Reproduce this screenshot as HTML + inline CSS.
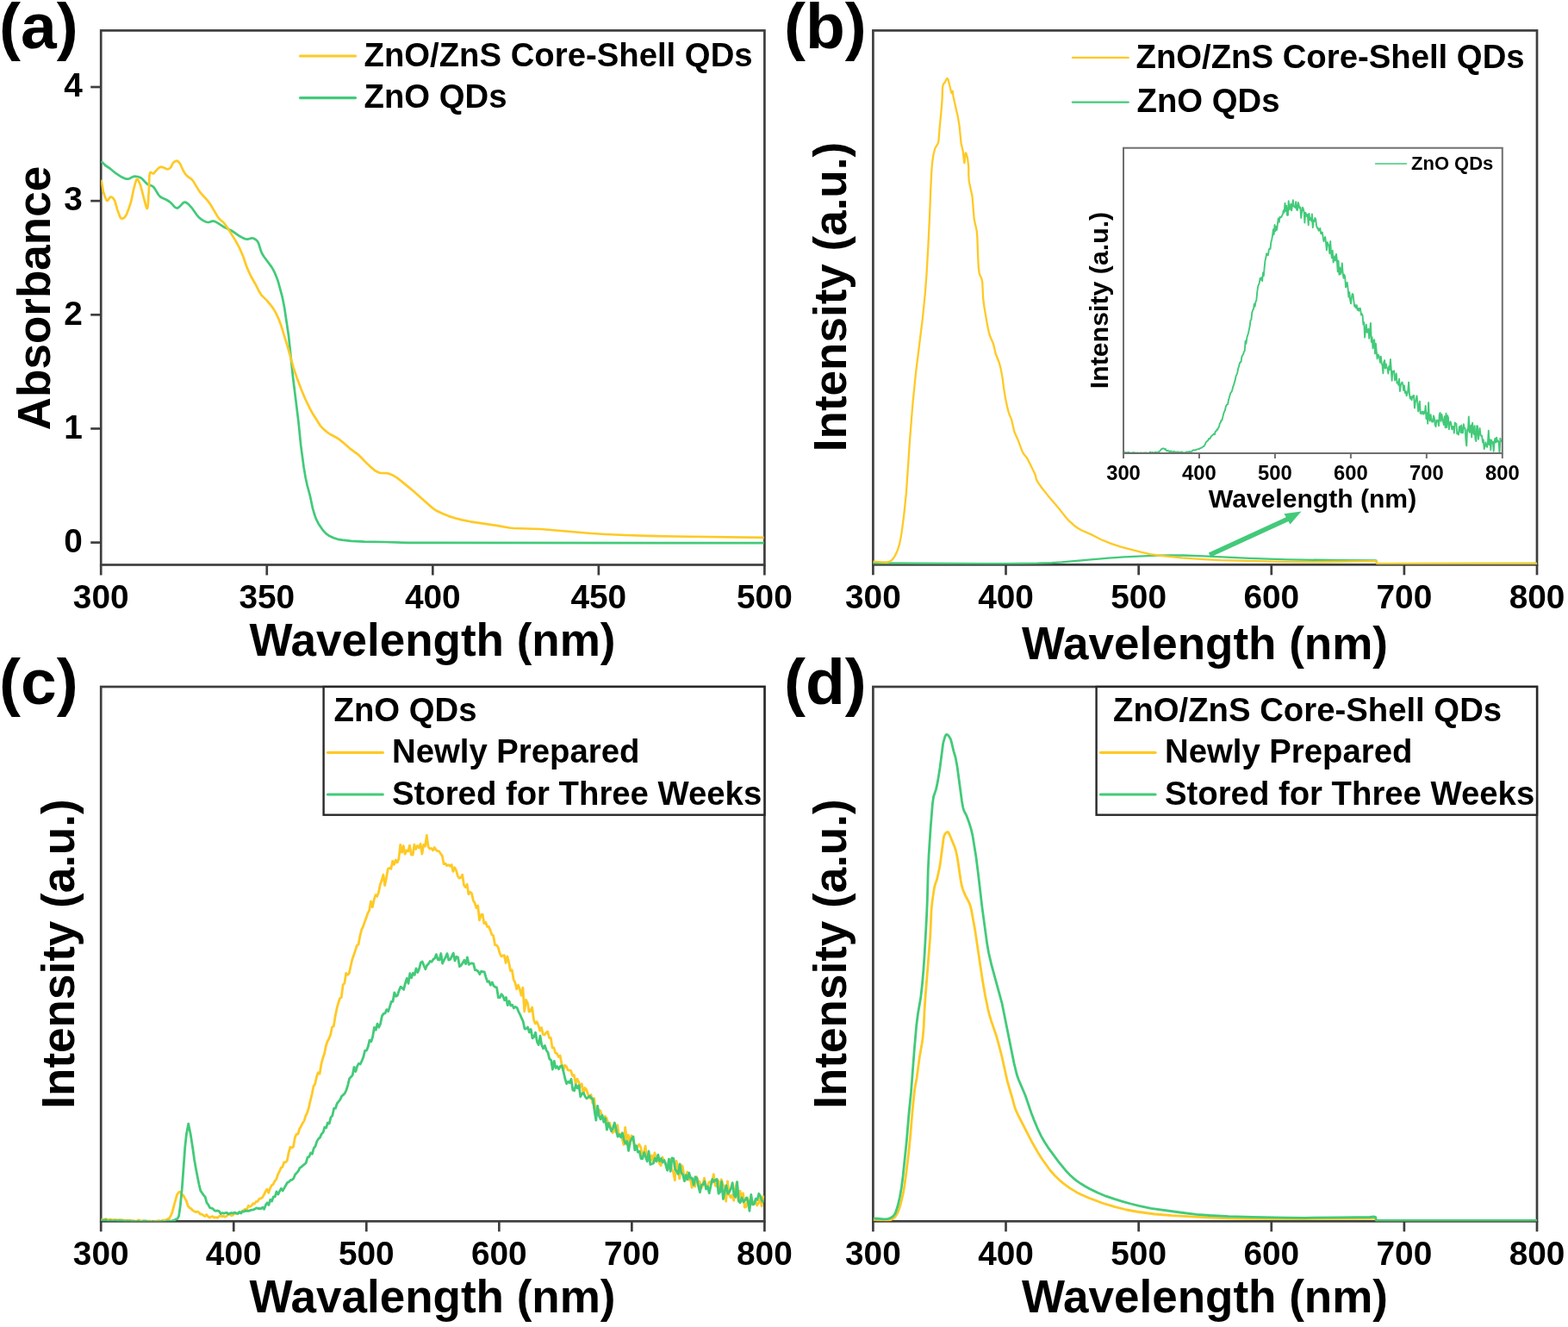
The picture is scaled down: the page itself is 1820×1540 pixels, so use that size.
<!DOCTYPE html>
<html><head><meta charset="utf-8"><title>Figure</title>
<style>html,body{margin:0;padding:0;background:#fff;}svg{display:block;}</style>
</head><body>
<svg width="1820" height="1540" viewBox="0 0 1820 1540" font-family="'Liberation Sans', Arial, sans-serif" font-weight="bold" fill="#000"><defs>
<clipPath id="ca"><rect x="117.2" y="35.4" width="770.2" height="620.1"/></clipPath>
<clipPath id="cb"><rect x="1013.4" y="35.4" width="770.6" height="619.9"/></clipPath>
<clipPath id="cc"><rect x="117.2" y="797" width="770.2" height="620.3"/></clipPath>
<clipPath id="cd"><rect x="1013.4" y="797" width="770.6" height="620.3"/></clipPath>
</defs><rect x="117.2" y="35.4" width="770.1999999999999" height="620.1" fill="none" stroke="#3e3e3e" stroke-width="2.7"/>
<line x1="117.2" y1="655.5" x2="117.2" y2="667.5" stroke="#3e3e3e" stroke-width="2.7" stroke-linecap="butt"/>
<text x="117.2" y="706.1" font-size="38.8" text-anchor="middle">300</text>
<line x1="309.75" y1="655.5" x2="309.75" y2="667.5" stroke="#3e3e3e" stroke-width="2.7" stroke-linecap="butt"/>
<text x="309.75" y="706.1" font-size="38.8" text-anchor="middle">350</text>
<line x1="502.3" y1="655.5" x2="502.3" y2="667.5" stroke="#3e3e3e" stroke-width="2.7" stroke-linecap="butt"/>
<text x="502.3" y="706.1" font-size="38.8" text-anchor="middle">400</text>
<line x1="694.85" y1="655.5" x2="694.85" y2="667.5" stroke="#3e3e3e" stroke-width="2.7" stroke-linecap="butt"/>
<text x="694.85" y="706.1" font-size="38.8" text-anchor="middle">450</text>
<line x1="887.4" y1="655.5" x2="887.4" y2="667.5" stroke="#3e3e3e" stroke-width="2.7" stroke-linecap="butt"/>
<text x="887.4" y="706.1" font-size="38.8" text-anchor="middle">500</text>
<line x1="105.2" y1="629.6" x2="117.2" y2="629.6" stroke="#3e3e3e" stroke-width="2.7" stroke-linecap="butt"/>
<text x="95.8" y="640.8" font-size="38.8" text-anchor="end">0</text>
<line x1="105.2" y1="497.45" x2="117.2" y2="497.45" stroke="#3e3e3e" stroke-width="2.7" stroke-linecap="butt"/>
<text x="95.8" y="508.65" font-size="38.8" text-anchor="end">1</text>
<line x1="105.2" y1="365.3" x2="117.2" y2="365.3" stroke="#3e3e3e" stroke-width="2.7" stroke-linecap="butt"/>
<text x="95.8" y="376.5" font-size="38.8" text-anchor="end">2</text>
<line x1="105.2" y1="233.15" x2="117.2" y2="233.15" stroke="#3e3e3e" stroke-width="2.7" stroke-linecap="butt"/>
<text x="95.8" y="244.35" font-size="38.8" text-anchor="end">3</text>
<line x1="105.2" y1="101.0" x2="117.2" y2="101.0" stroke="#3e3e3e" stroke-width="2.7" stroke-linecap="butt"/>
<text x="95.8" y="112.2" font-size="38.8" text-anchor="end">4</text>
<text x="502" y="761" font-size="53" text-anchor="middle">Wavelength (nm)</text>
<text x="58" y="346" font-size="53" text-anchor="middle" transform="rotate(-90 58 346)">Absorbance</text>
<line x1="348.5" y1="65" x2="412.5" y2="65" stroke="#FFC925" stroke-width="3.2" stroke-linecap="round"/>
<line x1="348.5" y1="113.6" x2="412.5" y2="113.6" stroke="#42CA79" stroke-width="3.2" stroke-linecap="round"/>
<text x="422.5" y="77.1" font-size="38.3" text-anchor="start">ZnO/ZnS Core-Shell QDs</text>
<text x="422.5" y="124.9" font-size="38.3" text-anchor="start">ZnO QDs</text>
<rect x="1013.4" y="35.4" width="770.6" height="619.9" fill="none" stroke="#3e3e3e" stroke-width="2.7"/>
<line x1="1013.4" y1="655.3" x2="1013.4" y2="667.3" stroke="#3e3e3e" stroke-width="2.7" stroke-linecap="butt"/>
<text x="1013.4" y="705.9" font-size="38.8" text-anchor="middle">300</text>
<line x1="1167.52" y1="655.3" x2="1167.52" y2="667.3" stroke="#3e3e3e" stroke-width="2.7" stroke-linecap="butt"/>
<text x="1167.52" y="705.9" font-size="38.8" text-anchor="middle">400</text>
<line x1="1321.64" y1="655.3" x2="1321.64" y2="667.3" stroke="#3e3e3e" stroke-width="2.7" stroke-linecap="butt"/>
<text x="1321.64" y="705.9" font-size="38.8" text-anchor="middle">500</text>
<line x1="1475.76" y1="655.3" x2="1475.76" y2="667.3" stroke="#3e3e3e" stroke-width="2.7" stroke-linecap="butt"/>
<text x="1475.76" y="705.9" font-size="38.8" text-anchor="middle">600</text>
<line x1="1629.88" y1="655.3" x2="1629.88" y2="667.3" stroke="#3e3e3e" stroke-width="2.7" stroke-linecap="butt"/>
<text x="1629.88" y="705.9" font-size="38.8" text-anchor="middle">700</text>
<line x1="1784.0" y1="655.3" x2="1784.0" y2="667.3" stroke="#3e3e3e" stroke-width="2.7" stroke-linecap="butt"/>
<text x="1784.0" y="705.9" font-size="38.8" text-anchor="middle">800</text>
<text x="1398.5" y="765" font-size="53" text-anchor="middle">Wavelength (nm)</text>
<text x="982" y="344.5" font-size="53" text-anchor="middle" transform="rotate(-90 982 344.5)">Intensity (a.u.)</text>
<line x1="1245" y1="66.9" x2="1309.6" y2="66.9" stroke="#FFC925" stroke-width="2.4" stroke-linecap="round"/>
<line x1="1245" y1="118.6" x2="1309.6" y2="118.6" stroke="#42CA79" stroke-width="2.4" stroke-linecap="round"/>
<text x="1318.5" y="78.6" font-size="38.3" text-anchor="start">ZnO/ZnS Core-Shell QDs</text>
<text x="1319.5" y="130" font-size="38.3" text-anchor="start">ZnO QDs</text>
<rect x="1304" y="171.7" width="439.79999999999995" height="354.3" fill="#fff" stroke="none"/>
<clipPath id="ci"><rect x="1304" y="171.7" width="439.79999999999995" height="354.3"/></clipPath>
<g clip-path="url(#ci)">
<path d="M1304.5,526.3L1305.3,524.5L1306.2,525.7L1307.0,525.2L1307.9,525.3L1308.7,525.4L1309.6,524.7L1310.4,525.4L1311.3,525.1L1312.1,526.8L1313.0,525.6L1313.8,525.4L1314.7,525.4L1315.5,525.2L1316.4,525.1L1317.2,525.4L1318.1,525.7L1318.9,525.5L1319.8,525.9L1320.6,525.5L1321.5,525.6L1322.3,526.2L1323.2,525.8L1324.0,525.4L1324.9,525.5L1325.7,525.8L1326.6,526.4L1327.4,525.5L1328.3,525.5L1329.1,526.0L1330.0,525.3L1330.8,525.5L1331.7,526.0L1332.5,525.8L1333.4,525.6L1334.2,525.9L1335.1,524.4L1335.9,525.9L1336.8,525.1L1337.6,524.8L1338.5,525.5L1339.3,525.6L1340.2,525.1L1341.0,524.7L1341.9,525.1L1342.7,524.9L1343.6,525.2L1344.4,524.7L1345.3,524.0L1346.1,523.7L1347.0,522.5L1347.8,521.3L1348.7,521.0L1349.5,520.5L1350.4,520.4L1351.2,520.7L1352.1,521.6L1352.9,521.1L1353.8,522.9L1354.6,523.3L1355.5,522.8L1356.3,523.7L1357.2,523.5L1358.0,524.4L1358.9,523.4L1359.7,523.9L1360.6,524.7L1361.4,524.9L1362.3,523.7L1363.1,524.4L1364.0,524.8L1364.8,524.5L1365.7,525.4L1366.5,524.4L1367.4,525.0L1368.2,524.5L1369.1,525.5L1369.9,525.0L1370.8,524.8L1371.6,524.3L1372.5,525.7L1373.3,525.3L1374.2,525.3L1375.0,525.4L1375.9,525.1L1376.7,524.6L1377.6,524.5L1378.4,524.4L1379.3,525.2L1380.1,524.0L1381.0,524.1L1381.8,524.1L1382.7,524.0L1383.5,523.8L1384.4,522.7L1385.2,522.2L1386.1,522.5L1386.9,522.7L1387.8,522.2L1388.6,521.8L1389.5,521.4L1390.3,521.4L1391.2,521.0L1392.0,521.1L1392.9,520.2L1393.7,520.1L1394.6,519.6L1395.4,519.2L1396.3,518.3L1397.1,518.3L1398.0,516.9L1398.8,515.8L1399.7,513.3L1400.5,512.8L1401.4,511.6L1402.2,511.1L1403.1,509.0L1403.9,509.4L1404.8,508.5L1405.6,506.6L1406.5,505.8L1407.3,505.0L1408.2,504.3L1409.0,503.5L1409.9,504.2L1410.7,500.7L1411.6,500.5L1412.4,498.5L1413.3,498.8L1414.1,496.3L1415.0,495.4L1415.8,491.3L1416.7,490.4L1417.5,487.7L1418.4,487.8L1419.2,484.4L1420.1,480.8L1420.9,478.0L1421.8,476.5L1422.6,472.9L1423.5,470.3L1424.3,469.3L1425.2,469.0L1426.0,463.9L1426.9,461.2L1427.7,458.1L1428.6,455.5L1429.4,454.9L1430.3,452.7L1431.1,449.2L1432.0,446.8L1432.8,443.9L1433.7,441.1L1434.5,436.6L1435.4,434.9L1436.2,432.7L1437.1,427.8L1437.9,425.6L1438.8,422.0L1439.6,420.2L1440.5,420.0L1441.3,414.4L1442.2,412.1L1443.0,411.4L1443.9,408.1L1444.7,407.3L1445.6,395.8L1446.4,398.8L1447.3,392.0L1448.1,389.2L1449.0,386.5L1449.8,382.8L1450.7,378.3L1451.5,371.9L1452.4,370.9L1453.2,363.0L1454.1,359.9L1454.9,358.9L1455.8,352.8L1456.6,355.7L1457.5,350.0L1458.3,348.9L1459.2,339.3L1460.0,333.3L1460.9,330.4L1461.7,328.7L1462.6,323.0L1463.4,324.8L1464.3,321.9L1465.1,326.2L1466.0,316.5L1466.8,320.1L1467.7,309.9L1468.5,302.3L1469.4,298.8L1470.2,294.1L1471.1,296.1L1471.9,296.2L1472.8,290.0L1473.6,288.4L1474.5,288.8L1475.3,281.1L1476.2,278.0L1477.0,273.5L1477.9,266.2L1478.7,272.0L1479.6,260.9L1480.4,268.2L1481.3,262.9L1482.1,266.7L1483.0,258.9L1483.8,253.5L1484.7,257.8L1485.5,251.8L1486.4,252.3L1487.2,252.1L1488.1,250.1L1488.9,248.6L1489.8,244.3L1490.6,246.5L1491.5,235.8L1492.3,244.8L1493.2,238.8L1494.0,249.7L1494.9,249.9L1495.7,233.3L1496.6,243.3L1497.4,241.6L1498.3,236.7L1499.1,244.3L1500.0,239.0L1500.8,232.2L1501.7,239.5L1502.5,239.8L1503.4,240.9L1504.2,234.1L1505.1,243.3L1505.9,244.0L1506.8,235.0L1507.6,238.1L1508.5,241.9L1509.3,240.5L1510.2,253.0L1511.0,246.1L1511.9,240.6L1512.7,242.2L1513.6,246.3L1514.4,258.5L1515.3,246.6L1516.1,248.6L1517.0,251.1L1517.8,248.9L1518.7,261.2L1519.5,247.9L1520.4,255.1L1521.2,253.2L1522.1,256.5L1522.9,248.5L1523.8,264.1L1524.6,255.5L1525.5,257.1L1526.3,252.9L1527.2,254.5L1528.0,261.7L1528.9,264.6L1529.7,264.4L1530.6,267.8L1531.4,266.8L1532.3,264.9L1533.1,270.8L1534.0,271.3L1534.8,269.5L1535.7,275.5L1536.5,280.1L1537.4,276.3L1538.2,275.0L1539.1,282.3L1539.9,290.3L1540.8,281.1L1541.6,283.5L1542.5,285.1L1543.3,294.0L1544.2,280.0L1545.0,293.3L1545.9,299.4L1546.7,290.8L1547.6,304.5L1548.4,301.3L1549.3,297.2L1550.1,302.6L1551.0,294.9L1551.8,301.4L1552.7,315.3L1553.5,302.8L1554.4,318.7L1555.2,310.5L1556.1,318.1L1556.9,315.2L1557.8,305.5L1558.6,316.5L1559.5,322.9L1560.3,318.8L1561.2,321.1L1562.0,333.3L1562.9,330.9L1563.7,327.8L1564.6,335.0L1565.4,344.7L1566.3,339.2L1567.1,347.9L1568.0,352.3L1568.8,345.8L1569.7,341.0L1570.5,341.5L1571.4,349.5L1572.2,355.7L1573.1,354.1L1573.9,357.3L1574.8,354.1L1575.6,359.9L1576.5,357.9L1577.3,360.7L1578.2,357.6L1579.0,358.0L1579.9,365.5L1580.7,364.0L1581.6,366.4L1582.4,376.6L1583.3,374.2L1584.1,391.6L1585.0,383.0L1585.8,376.6L1586.7,385.7L1587.5,385.3L1588.4,381.7L1589.2,392.8L1590.1,384.9L1590.9,374.9L1591.8,396.9L1592.6,391.4L1593.5,404.3L1594.3,395.1L1595.2,394.3L1596.0,410.4L1596.9,398.8L1597.7,407.6L1598.6,416.3L1599.4,411.5L1600.3,412.5L1601.1,415.3L1602.0,420.7L1602.8,413.6L1603.7,422.2L1604.5,423.1L1605.4,433.2L1606.2,420.3L1607.1,418.1L1607.9,427.5L1608.8,422.5L1609.6,426.9L1610.5,427.1L1611.3,433.5L1612.2,425.0L1613.0,429.2L1613.9,417.0L1614.7,427.3L1615.6,441.8L1616.4,430.9L1617.3,432.0L1618.1,430.3L1619.0,441.3L1619.8,440.1L1620.7,433.4L1621.5,444.6L1622.4,443.2L1623.2,446.8L1624.1,439.7L1624.9,454.0L1625.8,447.3L1626.6,445.1L1627.5,443.6L1628.3,446.0L1629.2,453.1L1630.0,447.4L1630.9,456.0L1631.7,453.9L1632.6,459.3L1633.4,457.2L1634.3,453.1L1635.1,443.6L1636.0,458.0L1636.8,462.5L1637.7,460.5L1638.5,464.3L1639.4,459.6L1640.2,461.3L1641.1,458.8L1641.9,473.5L1642.8,467.0L1643.6,463.8L1644.5,459.4L1645.3,467.2L1646.2,477.5L1647.0,472.2L1647.9,465.7L1648.7,479.6L1649.6,480.3L1650.4,478.2L1651.3,477.7L1652.1,480.7L1653.0,477.6L1653.8,479.8L1654.7,470.9L1655.5,486.1L1656.4,479.2L1657.2,491.6L1658.1,467.1L1658.9,485.7L1659.8,488.5L1660.6,481.1L1661.5,487.1L1662.3,489.7L1663.2,489.3L1664.0,482.5L1664.9,485.4L1665.7,493.2L1666.6,495.1L1667.4,487.6L1668.3,487.6L1669.1,488.6L1670.0,494.2L1670.8,480.7L1671.7,479.0L1672.5,488.9L1673.4,481.0L1674.2,484.9L1675.1,489.8L1675.9,493.0L1676.8,483.2L1677.6,496.3L1678.5,479.7L1679.3,495.9L1680.2,482.2L1681.0,484.8L1681.9,498.2L1682.7,491.6L1683.6,489.3L1684.4,491.9L1685.3,498.3L1686.1,494.9L1687.0,495.1L1687.8,502.6L1688.7,490.4L1689.5,492.1L1690.4,491.7L1691.2,503.5L1692.1,502.3L1692.9,504.5L1693.8,495.4L1694.6,494.7L1695.5,502.0L1696.3,493.5L1697.2,502.5L1698.0,502.1L1698.9,492.3L1699.7,497.0L1700.6,497.2L1701.4,510.8L1702.3,517.4L1703.1,498.5L1704.0,499.7L1704.8,483.5L1705.7,501.9L1706.5,500.7L1707.4,493.4L1708.2,507.4L1709.1,490.6L1709.9,500.9L1710.8,504.0L1711.6,494.2L1712.5,510.1L1713.3,512.0L1714.2,494.3L1715.0,494.5L1715.9,509.8L1716.7,505.4L1717.6,496.9L1718.4,504.1L1719.3,505.8L1720.1,505.8L1721.0,513.4L1721.8,510.3L1722.7,521.1L1723.5,518.4L1724.4,513.3L1725.2,516.7L1726.1,518.8L1726.9,514.3L1727.8,499.7L1728.6,516.0L1729.5,510.1L1730.3,522.3L1731.2,510.7L1732.0,514.3L1732.9,512.9L1733.7,523.7L1734.6,512.1L1735.4,508.8L1736.3,513.5L1737.1,507.8L1738.0,512.6L1738.8,511.4L1739.7,513.7L1740.5,526.9L1741.4,508.6L1742.2,512.2L1743.1,510.4" fill="none" stroke="#42CA79" stroke-width="1.9" stroke-linejoin="round" stroke-linecap="butt"/>
</g>
<rect x="1304" y="171.7" width="439.79999999999995" height="354.3" fill="none" stroke="#6e6e6e" stroke-width="2.0"/>
<line x1="1304.0" y1="526" x2="1304.0" y2="532" stroke="#6e6e6e" stroke-width="2.0" stroke-linecap="butt"/>
<text x="1304.0" y="556.5" font-size="23.8" text-anchor="middle">300</text>
<line x1="1391.96" y1="526" x2="1391.96" y2="532" stroke="#6e6e6e" stroke-width="2.0" stroke-linecap="butt"/>
<text x="1391.96" y="556.5" font-size="23.8" text-anchor="middle">400</text>
<line x1="1479.92" y1="526" x2="1479.92" y2="532" stroke="#6e6e6e" stroke-width="2.0" stroke-linecap="butt"/>
<text x="1479.92" y="556.5" font-size="23.8" text-anchor="middle">500</text>
<line x1="1567.88" y1="526" x2="1567.88" y2="532" stroke="#6e6e6e" stroke-width="2.0" stroke-linecap="butt"/>
<text x="1567.88" y="556.5" font-size="23.8" text-anchor="middle">600</text>
<line x1="1655.84" y1="526" x2="1655.84" y2="532" stroke="#6e6e6e" stroke-width="2.0" stroke-linecap="butt"/>
<text x="1655.84" y="556.5" font-size="23.8" text-anchor="middle">700</text>
<line x1="1743.8" y1="526" x2="1743.8" y2="532" stroke="#6e6e6e" stroke-width="2.0" stroke-linecap="butt"/>
<text x="1743.8" y="556.5" font-size="23.8" text-anchor="middle">800</text>
<text x="1523.5" y="589.2" font-size="30.1" text-anchor="middle">Wavelength (nm)</text>
<text x="1286.3" y="348.5" font-size="30.3" text-anchor="middle" transform="rotate(-90 1286.3 348.5)">Intensity (a.u.)</text>
<line x1="1596.5" y1="190" x2="1632.5" y2="190" stroke="#42CA79" stroke-width="1.4" stroke-linecap="round"/>
<text x="1638" y="196.5" font-size="22" text-anchor="start">ZnO QDs</text>
<line x1="1404" y1="644" x2="1496" y2="601.8" stroke="#42CA79" stroke-width="5.6"/>
<polygon points="1510.5,593.5 1490.5,596.2 1497.5,608.5" fill="#42CA79"/>
<rect x="117.2" y="797" width="770.1999999999999" height="620.3" fill="none" stroke="#3e3e3e" stroke-width="2.7"/>
<line x1="117.2" y1="1417.3" x2="117.2" y2="1429.3" stroke="#3e3e3e" stroke-width="2.7" stroke-linecap="butt"/>
<text x="117.2" y="1467.8999999999999" font-size="38.8" text-anchor="middle">300</text>
<line x1="271.24" y1="1417.3" x2="271.24" y2="1429.3" stroke="#3e3e3e" stroke-width="2.7" stroke-linecap="butt"/>
<text x="271.24" y="1467.8999999999999" font-size="38.8" text-anchor="middle">400</text>
<line x1="425.28" y1="1417.3" x2="425.28" y2="1429.3" stroke="#3e3e3e" stroke-width="2.7" stroke-linecap="butt"/>
<text x="425.28" y="1467.8999999999999" font-size="38.8" text-anchor="middle">500</text>
<line x1="579.32" y1="1417.3" x2="579.32" y2="1429.3" stroke="#3e3e3e" stroke-width="2.7" stroke-linecap="butt"/>
<text x="579.32" y="1467.8999999999999" font-size="38.8" text-anchor="middle">600</text>
<line x1="733.36" y1="1417.3" x2="733.36" y2="1429.3" stroke="#3e3e3e" stroke-width="2.7" stroke-linecap="butt"/>
<text x="733.36" y="1467.8999999999999" font-size="38.8" text-anchor="middle">700</text>
<line x1="887.4" y1="1417.3" x2="887.4" y2="1429.3" stroke="#3e3e3e" stroke-width="2.7" stroke-linecap="butt"/>
<text x="887.4" y="1467.8999999999999" font-size="38.8" text-anchor="middle">800</text>
<text x="502" y="1523" font-size="53" text-anchor="middle">Wavalength (nm)</text>
<text x="85.6" y="1107" font-size="53" text-anchor="middle" transform="rotate(-90 85.6 1107)">Intensity (a.u.)</text>
<rect x="375.6" y="797" width="511.8" height="148.7" fill="#fff" stroke="#282828" stroke-width="2.4"/>
<text x="387.5" y="836.9" font-size="38.3" text-anchor="start">ZnO QDs</text>
<line x1="380.5" y1="873.3" x2="444.3" y2="873.3" stroke="#FFC925" stroke-width="3.2" stroke-linecap="round"/>
<line x1="380.5" y1="922" x2="444.3" y2="922" stroke="#42CA79" stroke-width="3.2" stroke-linecap="round"/>
<text x="455" y="885.3" font-size="38.3" text-anchor="start">Newly Prepared</text>
<text x="455" y="933.6" font-size="38.3" text-anchor="start">Stored for Three Weeks</text>
<rect x="1013.4" y="797" width="770.6" height="620.3" fill="none" stroke="#3e3e3e" stroke-width="2.7"/>
<line x1="1013.4" y1="1417.3" x2="1013.4" y2="1429.3" stroke="#3e3e3e" stroke-width="2.7" stroke-linecap="butt"/>
<text x="1013.4" y="1467.8999999999999" font-size="38.8" text-anchor="middle">300</text>
<line x1="1167.52" y1="1417.3" x2="1167.52" y2="1429.3" stroke="#3e3e3e" stroke-width="2.7" stroke-linecap="butt"/>
<text x="1167.52" y="1467.8999999999999" font-size="38.8" text-anchor="middle">400</text>
<line x1="1321.64" y1="1417.3" x2="1321.64" y2="1429.3" stroke="#3e3e3e" stroke-width="2.7" stroke-linecap="butt"/>
<text x="1321.64" y="1467.8999999999999" font-size="38.8" text-anchor="middle">500</text>
<line x1="1475.76" y1="1417.3" x2="1475.76" y2="1429.3" stroke="#3e3e3e" stroke-width="2.7" stroke-linecap="butt"/>
<text x="1475.76" y="1467.8999999999999" font-size="38.8" text-anchor="middle">600</text>
<line x1="1629.88" y1="1417.3" x2="1629.88" y2="1429.3" stroke="#3e3e3e" stroke-width="2.7" stroke-linecap="butt"/>
<text x="1629.88" y="1467.8999999999999" font-size="38.8" text-anchor="middle">700</text>
<line x1="1784.0" y1="1417.3" x2="1784.0" y2="1429.3" stroke="#3e3e3e" stroke-width="2.7" stroke-linecap="butt"/>
<text x="1784.0" y="1467.8999999999999" font-size="38.8" text-anchor="middle">800</text>
<text x="1398.5" y="1523" font-size="53" text-anchor="middle">Wavelength (nm)</text>
<text x="981.7" y="1107" font-size="53" text-anchor="middle" transform="rotate(-90 981.7 1107)">Intensity (a.u.)</text>
<rect x="1272.6" y="797" width="511.4" height="148.7" fill="#fff" stroke="#282828" stroke-width="2.4"/>
<text x="1292" y="836.9" font-size="38.3" text-anchor="start">ZnO/ZnS Core-Shell QDs</text>
<line x1="1277.5" y1="873.3" x2="1341" y2="873.3" stroke="#FFC925" stroke-width="3.2" stroke-linecap="round"/>
<line x1="1277.5" y1="922" x2="1341" y2="922" stroke="#42CA79" stroke-width="3.2" stroke-linecap="round"/>
<text x="1352" y="885.3" font-size="38.3" text-anchor="start">Newly Prepared</text>
<text x="1352" y="933.6" font-size="38.3" text-anchor="start">Stored for Three Weeks</text>
<text x="-1" y="56" font-size="75" text-anchor="start">(a)</text>
<text x="910" y="56" font-size="75" text-anchor="start">(b)</text>
<text x="-1" y="817" font-size="75" text-anchor="start">(c)</text>
<text x="910" y="817" font-size="75" text-anchor="start">(d)</text>
<g clip-path="url(#ca)">
<path d="M117.5,187.1L122.3,192.0L127.6,195.5L134.5,201.2L140.9,205.3L144.5,207.0L146.7,207.7L148.6,207.7L150.3,207.2L154.2,205.1L156.4,204.7L159.9,205.0L162.0,205.7L163.6,206.5L165.4,208.0L169.8,212.6L171.5,214.0L172.8,214.6L176.5,215.8L178.5,217.4L180.1,219.6L183.9,226.0L185.6,228.0L187.9,229.5L193.5,232.0L196.6,234.0L198.6,235.6L202.2,239.7L203.8,241.0L205.4,241.6L206.3,241.4L208.1,240.1L212.8,235.3L213.7,234.8L214.6,234.6L216.2,235.1L218.6,236.9L223.4,242.2L228.5,249.5L230.3,251.7L233.1,254.1L236.1,256.1L239.1,257.5L241.0,258.0L242.4,258.0L246.5,256.6L248.0,256.6L249.1,256.9L252.4,258.6L259.4,263.2L268.8,267.6L276.7,273.2L282.9,276.6L285.5,277.5L287.1,277.7L292.1,276.4L294.0,276.5L296.7,278.0L298.2,279.3L299.4,280.9L300.5,283.5L302.9,291.3L304.0,294.0L306.3,297.7L315.1,309.6L316.9,312.6L319.1,317.0L321.5,323.0L323.0,327.4L327.6,344.3L330.0,356.2L335.0,389.5L340.0,437.5L346.4,489.2L349.3,517.6L352.6,542.2L354.7,554.5L356.7,563.6L359.9,575.5L362.8,589.3L364.8,596.3L366.6,601.6L369.6,607.7L375.1,615.7L378.3,619.2L381.8,621.7L387.3,624.3L392.1,625.8L397.2,626.7L407.7,627.8L422.7,628.7L446.7,629.0L473.1,629.9L886.7,630.1" fill="none" stroke="#42CA79" stroke-width="2.7" stroke-linejoin="round" stroke-linecap="butt"/>
<path d="M117.5,208.7L119.7,221.7L121.6,227.7L123.2,231.6L124.0,232.7L124.9,232.8L125.6,232.1L127.7,229.0L128.5,228.5L129.7,228.8L131.3,230.1L132.4,231.5L133.4,233.4L136.0,242.6L139.3,251.7L140.3,253.1L140.8,253.5L141.5,253.7L142.5,253.6L144.3,252.6L145.8,250.7L147.3,247.8L149.4,242.3L152.4,233.0L154.8,221.0L157.0,212.5L158.1,209.2L158.8,208.0L159.5,207.9L160.6,209.2L163.1,215.1L169.1,238.2L170.0,241.0L170.7,242.0L171.1,241.6L171.4,240.4L171.8,236.3L173.0,217.9L173.3,205.5L173.7,201.8L174.1,200.6L174.9,199.8L177.4,201.5L178.4,201.5L180.0,199.3L183.7,195.3L185.1,194.3L186.5,193.7L187.2,193.7L188.9,194.1L193.7,196.3L195.6,196.2L197.0,195.4L198.3,194.1L200.6,189.5L202.1,187.9L203.8,187.0L205.0,186.7L206.1,186.9L207.0,187.6L208.5,189.3L209.5,191.0L212.7,198.0L214.7,201.4L217.3,204.3L222.2,207.9L224.2,210.1L231.3,221.9L233.4,224.5L240.4,232.2L243.9,236.7L253.1,252.1L255.4,254.8L260.0,258.8L264.4,264.9L273.4,279.4L278.2,288.2L282.4,298.0L286.0,308.8L288.6,314.9L291.5,321.0L296.6,330.0L301.1,338.8L303.8,342.9L309.2,348.1L313.8,353.5L316.9,357.6L319.8,362.4L323.6,370.5L326.5,378.3L333.6,401.6L340.8,427.1L344.6,438.4L349.6,451.7L354.3,463.0L359.7,474.2L362.8,479.8L371.6,493.8L375.4,497.9L380.0,501.8L383.3,504.0L390.8,508.0L393.3,509.6L397.1,512.6L405.6,520.1L415.2,527.1L418.3,530.0L425.6,537.6L431.4,542.9L435.1,546.0L437.7,547.6L440.2,548.6L442.7,549.0L449.0,549.2L452.2,549.9L455.3,551.2L460.3,554.2L464.9,557.6L477.1,567.6L502.8,590.2L506.8,592.8L513.6,596.0L521.2,599.1L528.0,601.3L536.2,603.4L545.9,605.3L577.9,610.1L591.1,612.5L596.0,613.0L627.4,614.0L686.3,619.0L702.8,620.0L725.1,621.0L751.6,621.8L782.4,622.5L886.7,623.8" fill="none" stroke="#FFC925" stroke-width="2.7" stroke-linejoin="round" stroke-linecap="butt"/>
</g>
<g clip-path="url(#cb)">
<path d="M1013.0,653.5L1140.9,654.2L1168.2,654.2L1204.1,653.7L1220.6,653.1L1232.3,652.4L1286.7,647.6L1304.9,646.3L1343.2,644.6L1359.3,644.3L1373.5,644.5L1397.2,645.3L1450.0,647.8L1494.0,649.3L1554.2,650.2L1597.0,650.4L1597.5,650.9L1598.0,653.6L1598.7,654.1L1784.0,654.0" fill="none" stroke="#42CA79" stroke-width="2.3" stroke-linejoin="round" stroke-linecap="butt"/>
<path d="M1013.2,651.6L1023.4,652.4L1029.5,652.5L1031.9,652.0L1033.0,651.5L1034.7,650.4L1036.8,648.0L1038.6,645.4L1041.7,639.0L1044.0,631.7L1046.2,620.6L1049.0,599.8L1051.9,572.2L1056.2,508.6L1059.4,468.6L1063.1,432.0L1070.8,370.3L1073.9,339.5L1075.5,318.0L1077.3,287.1L1079.1,249.8L1080.3,218.3L1081.4,197.0L1082.2,187.7L1083.5,179.3L1084.9,173.7L1086.0,170.9L1088.5,166.9L1089.5,163.5L1090.5,150.1L1092.9,124.9L1093.6,115.1L1094.0,102.4L1094.3,99.8L1095.1,97.4L1096.8,95.6L1098.7,91.8L1099.5,90.9L1100.2,91.7L1101.4,95.6L1104.3,107.7L1104.6,108.1L1104.8,107.9L1105.6,105.9L1105.7,105.7L1105.8,105.9L1106.4,111.4L1111.9,135.9L1113.6,146.2L1115.5,165.7L1117.8,175.9L1119.1,188.4L1119.4,189.1L1119.6,188.2L1120.3,180.5L1120.6,178.3L1120.9,177.4L1121.4,178.0L1122.0,179.6L1123.1,184.0L1124.2,193.5L1124.3,203.0L1124.7,209.4L1125.2,212.4L1128.5,227.4L1130.7,254.3L1133.7,267.7L1134.3,274.6L1135.4,302.7L1135.9,311.1L1136.7,317.1L1137.7,319.9L1139.3,323.1L1140.2,327.5L1141.2,347.0L1142.5,356.7L1146.2,378.1L1147.8,385.6L1149.4,390.8L1153.1,399.3L1155.5,410.0L1159.8,421.0L1161.6,427.9L1163.5,438.0L1165.3,451.8L1167.0,462.1L1169.0,471.8L1170.7,478.4L1171.8,481.5L1174.1,486.9L1177.4,501.2L1181.8,511.1L1186.3,523.4L1188.0,526.5L1191.6,530.9L1193.5,534.3L1200.9,549.3L1201.9,551.8L1202.8,556.1L1204.8,559.9L1209.1,566.0L1216.6,575.4L1229.9,591.1L1237.1,600.2L1240.8,604.4L1246.6,609.7L1250.8,612.7L1255.0,615.3L1266.2,620.1L1278.2,626.2L1289.6,630.9L1301.8,634.9L1323.0,640.4L1335.1,643.1L1347.2,644.8L1371.4,647.3L1396.5,649.1L1416.6,650.1L1486.6,651.9L1509.4,652.1L1540.0,652.0L1597.0,651.1L1597.5,651.5L1598.1,653.7L1598.7,654.1L1784.0,654.0" fill="none" stroke="#FFC925" stroke-width="2.3" stroke-linejoin="round" stroke-linecap="butt"/>
</g>
<g clip-path="url(#cc)">
<path d="M117.3,1415.2L119.1,1415.5L120.9,1415.3L122.7,1414.7L124.5,1415.6L126.3,1415.5L128.1,1415.1L129.9,1415.6L131.7,1415.6L133.5,1415.7L135.3,1415.7L137.1,1416.0L138.9,1415.6L140.7,1415.9L142.5,1415.9L144.3,1416.4L146.1,1416.3L147.9,1416.2L149.7,1416.1L151.5,1416.4L153.3,1416.7L155.1,1416.6L156.9,1417.4L158.7,1417.3L160.5,1415.9L162.3,1416.3L164.1,1417.1L165.9,1417.1L167.7,1417.4L169.5,1417.4L171.3,1418.2L173.1,1417.0L174.9,1417.3L176.7,1418.3L178.5,1417.7L180.3,1417.6L182.1,1417.1L183.9,1416.5L185.7,1417.1L187.5,1416.9L189.3,1416.1L191.1,1416.0L192.9,1415.7L194.7,1414.7L196.5,1413.7L198.3,1410.8L200.1,1406.4L201.9,1399.3L203.7,1392.9L205.5,1386.5L207.3,1383.7L209.1,1383.0L210.9,1386.3L212.7,1387.0L214.5,1390.6L216.3,1393.5L218.1,1399.4L219.9,1401.7L221.7,1402.5L223.5,1404.5L225.3,1405.7L227.1,1406.6L228.9,1406.1L230.7,1406.8L232.5,1409.0L234.3,1409.1L236.1,1410.5L237.9,1411.6L239.7,1409.6L241.5,1411.9L243.3,1413.2L245.1,1412.0L246.9,1411.6L248.7,1413.2L250.5,1412.7L252.3,1413.3L254.1,1411.9L255.9,1410.6L257.7,1411.8L259.5,1411.2L261.3,1412.2L263.1,1411.3L264.9,1409.1L266.7,1409.2L268.5,1410.8L270.3,1410.1L272.1,1408.3L273.9,1408.3L275.7,1408.1L277.5,1407.4L279.3,1407.1L281.1,1405.6L282.9,1404.4L284.7,1403.3L286.5,1403.7L288.3,1399.3L290.1,1400.4L291.9,1399.4L293.7,1396.7L295.5,1397.0L297.3,1394.5L299.1,1394.2L300.9,1391.3L302.7,1390.7L304.5,1389.9L306.3,1386.8L308.1,1382.9L309.9,1380.1L311.7,1384.2L313.5,1379.0L315.3,1375.7L317.1,1374.5L318.9,1370.6L320.7,1368.6L322.5,1363.2L324.3,1359.7L326.1,1355.2L327.9,1354.4L329.7,1348.8L331.5,1348.8L333.3,1346.9L335.1,1337.5L336.9,1331.3L338.7,1332.1L340.5,1330.9L342.3,1320.3L344.1,1316.2L345.9,1316.1L347.7,1310.0L349.5,1307.0L351.3,1303.3L353.1,1300.7L354.9,1294.7L356.7,1291.2L358.5,1285.1L360.3,1277.0L362.1,1269.8L363.9,1260.8L365.7,1258.0L367.5,1249.8L369.3,1244.8L371.1,1246.1L372.9,1235.1L374.7,1228.0L376.5,1222.9L378.3,1213.9L380.1,1208.5L381.9,1205.3L383.7,1200.7L385.5,1191.8L387.3,1191.0L389.1,1179.6L390.9,1170.7L392.7,1164.0L394.5,1158.6L396.3,1157.4L398.1,1143.0L399.9,1140.9L401.7,1129.4L403.5,1131.2L405.3,1129.4L407.1,1121.0L408.9,1113.2L410.7,1108.2L412.5,1102.9L414.3,1097.3L416.1,1095.9L417.9,1086.1L419.7,1079.0L421.5,1075.2L423.3,1069.9L425.1,1065.1L426.9,1059.8L428.7,1056.4L430.5,1046.1L432.3,1052.7L434.1,1044.4L435.9,1038.6L437.7,1040.2L439.5,1035.5L441.3,1026.4L443.1,1021.6L444.9,1015.1L446.7,1027.6L448.5,1018.2L450.3,1008.4L452.1,1007.4L453.9,1008.2L455.7,999.4L457.5,1003.3L459.3,998.0L461.1,1000.9L462.9,996.7L464.7,980.3L466.5,989.1L468.3,981.7L470.1,991.2L471.9,987.0L473.7,987.9L475.5,981.2L477.3,991.8L479.1,992.2L480.9,980.2L482.7,985.5L484.5,981.5L486.3,983.9L488.1,979.2L489.9,991.1L491.7,980.4L493.5,982.0L495.3,969.5L497.1,982.8L498.9,985.0L500.7,984.5L502.5,986.8L504.3,983.4L506.1,986.5L507.9,987.7L509.7,987.9L511.5,990.9L513.3,993.2L515.1,1002.7L516.9,1002.1L518.7,1004.6L520.5,1003.7L522.3,1005.2L524.1,1003.4L525.9,1011.4L527.7,1006.7L529.5,1010.1L531.3,1016.5L533.1,1019.1L534.9,1018.5L536.7,1015.1L538.5,1027.2L540.3,1029.6L542.1,1026.3L543.9,1037.7L545.7,1035.2L547.5,1036.8L549.3,1045.0L551.1,1047.9L552.9,1053.6L554.7,1051.0L556.5,1067.8L558.3,1061.9L560.1,1061.1L561.9,1071.7L563.7,1070.3L565.5,1075.3L567.3,1075.4L569.1,1079.6L570.9,1084.8L572.7,1085.9L574.5,1096.6L576.3,1096.9L578.1,1099.2L579.9,1105.7L581.7,1109.8L583.5,1109.1L585.3,1108.6L587.1,1117.5L588.9,1110.0L590.7,1117.0L592.5,1126.6L594.3,1125.8L596.1,1136.7L597.9,1140.3L599.7,1148.0L601.5,1143.3L603.3,1147.8L605.1,1155.2L606.9,1146.1L608.7,1173.9L610.5,1160.5L612.3,1163.7L614.1,1174.0L615.9,1173.4L617.7,1169.1L619.5,1183.2L621.3,1187.9L623.1,1185.8L624.9,1189.8L626.7,1196.2L628.5,1192.6L630.3,1200.4L632.1,1201.0L633.9,1198.7L635.7,1197.2L637.5,1204.5L639.3,1204.4L641.1,1216.0L642.9,1215.8L644.7,1222.2L646.5,1222.7L648.3,1226.5L650.1,1225.1L651.9,1234.6L653.7,1242.6L655.5,1236.3L657.3,1237.4L659.1,1241.8L660.9,1242.2L662.7,1242.7L664.5,1248.3L666.3,1247.6L668.1,1257.6L669.9,1252.1L671.7,1255.6L673.5,1261.2L675.3,1257.8L677.1,1269.6L678.9,1262.5L680.7,1264.7L682.5,1269.8L684.3,1274.1L686.1,1270.4L687.9,1280.3L689.7,1274.7L691.5,1293.2L693.3,1288.3L695.1,1288.0L696.9,1289.2L698.7,1294.5L700.5,1297.6L702.3,1295.4L704.1,1297.9L705.9,1303.4L707.7,1303.1L709.5,1312.2L711.3,1314.6L713.1,1310.0L714.9,1313.9L716.7,1305.7L718.5,1318.1L720.3,1316.2L722.1,1320.7L723.9,1328.5L725.7,1308.5L727.5,1323.8L729.3,1317.3L731.1,1327.7L732.9,1317.9L734.7,1323.5L736.5,1328.5L738.3,1332.2L740.1,1330.8L741.9,1327.9L743.7,1331.3L745.5,1341.6L747.3,1338.3L749.1,1330.0L750.9,1345.7L752.7,1344.0L754.5,1347.4L756.3,1340.9L758.1,1348.3L759.9,1337.8L761.7,1348.1L763.5,1342.5L765.3,1350.1L767.1,1352.7L768.9,1343.0L770.7,1347.9L772.5,1349.3L774.3,1357.4L776.1,1355.8L777.9,1345.5L779.7,1357.0L781.5,1360.1L783.3,1369.8L785.1,1347.5L786.9,1355.4L788.7,1367.8L790.5,1352.0L792.3,1353.7L794.1,1365.3L795.9,1369.5L797.7,1360.2L799.5,1369.2L801.3,1368.0L803.1,1378.3L804.9,1369.9L806.7,1377.1L808.5,1365.6L810.3,1370.5L812.1,1371.2L813.9,1379.2L815.7,1375.6L817.5,1367.1L819.3,1376.6L821.1,1377.5L822.9,1372.0L824.7,1371.4L826.5,1372.2L828.3,1362.7L830.1,1375.7L831.9,1376.7L833.7,1370.2L835.5,1381.9L837.3,1368.8L839.1,1375.2L840.9,1376.7L842.7,1394.2L844.5,1370.8L846.3,1386.3L848.1,1389.7L849.9,1386.7L851.7,1393.2L853.5,1379.3L855.3,1371.8L857.1,1394.1L858.9,1382.1L860.7,1389.5L862.5,1384.8L864.3,1401.2L866.1,1400.5L867.9,1389.9L869.7,1401.5L871.5,1396.1L873.3,1394.3L875.1,1395.6L876.9,1393.5L878.7,1398.9L880.5,1396.2L882.3,1390.8L884.1,1399.8L885.9,1387.5" fill="none" stroke="#FFC925" stroke-width="2.8" stroke-linejoin="round" stroke-linecap="butt"/>
<path d="M117.6,1416.4L119.4,1416.1L121.2,1416.2L123.0,1415.4L124.8,1417.1L126.6,1416.9L128.4,1416.3L130.2,1416.8L132.0,1416.6L133.8,1416.3L135.6,1417.0L137.4,1416.5L139.2,1416.6L141.0,1416.5L142.8,1417.0L144.6,1416.8L146.4,1417.2L148.2,1416.8L150.0,1417.1L151.8,1416.8L153.6,1417.5L155.4,1417.3L157.2,1417.4L159.0,1417.5L160.8,1417.0L162.6,1417.8L164.4,1418.3L166.2,1416.9L168.0,1416.9L169.8,1417.0L171.6,1418.0L173.4,1417.7L175.2,1418.2L177.0,1418.0L178.8,1417.8L180.6,1417.9L182.4,1417.7L184.2,1418.1L186.0,1417.3L187.8,1417.5L189.6,1417.7L191.4,1418.3L193.2,1417.2L195.0,1416.9L196.8,1416.9L198.6,1417.4L200.4,1416.5L202.2,1416.7L204.0,1414.8L205.8,1414.6L207.6,1411.4L209.4,1398.2L211.2,1380.4L213.0,1355.6L214.8,1330.9L216.4,1316.3L218.7,1304.2L221.2,1316.3L223.8,1333.0L225.6,1346.0L227.4,1356.2L229.2,1365.6L231.0,1374.5L232.8,1381.9L234.6,1384.5L236.4,1387.1L238.2,1389.2L240.0,1395.9L241.8,1398.1L243.6,1401.7L245.4,1402.1L247.2,1402.8L249.0,1404.9L250.8,1405.3L252.6,1404.9L254.4,1405.8L256.2,1408.6L258.0,1407.7L259.8,1408.1L261.6,1407.7L263.4,1407.4L265.2,1409.0L267.0,1408.1L268.8,1407.5L270.6,1408.0L272.4,1407.1L274.2,1407.9L276.0,1408.5L277.8,1406.4L279.6,1408.1L281.4,1405.8L283.2,1406.2L285.0,1405.0L286.8,1405.3L288.6,1405.3L290.4,1404.7L292.2,1404.2L294.0,1403.8L295.8,1403.2L297.6,1401.9L299.4,1402.5L301.2,1402.3L303.0,1402.6L304.8,1401.2L306.6,1403.2L308.4,1398.4L310.2,1395.8L312.0,1398.4L313.8,1392.1L315.6,1394.0L317.4,1388.8L319.2,1388.8L321.0,1382.9L322.8,1386.0L324.6,1382.4L326.4,1379.2L328.2,1381.9L330.0,1378.6L331.8,1375.5L333.6,1372.3L335.4,1371.7L337.2,1369.6L339.0,1369.2L340.8,1367.5L342.6,1363.0L344.4,1361.2L346.2,1359.1L348.0,1355.4L349.8,1354.3L351.6,1352.6L353.4,1351.2L355.2,1349.5L357.0,1343.1L358.8,1342.5L360.6,1337.9L362.4,1339.2L364.2,1332.5L366.0,1330.3L367.8,1324.6L369.6,1321.6L371.4,1320.1L373.2,1316.1L375.0,1314.3L376.8,1308.1L378.6,1308.9L380.4,1303.0L382.2,1304.0L384.0,1296.6L385.8,1294.7L387.6,1286.5L389.4,1286.2L391.2,1280.7L393.0,1278.3L394.8,1276.2L396.6,1272.1L398.4,1270.7L400.2,1268.8L402.0,1265.0L403.8,1259.1L405.6,1251.6L407.4,1249.7L409.2,1247.8L411.0,1238.3L412.8,1243.5L414.6,1237.4L416.4,1234.3L418.2,1235.0L420.0,1231.2L421.8,1226.6L423.6,1219.3L425.4,1219.1L427.2,1214.9L429.0,1207.1L430.8,1208.8L432.6,1203.3L434.4,1192.4L436.2,1195.4L438.0,1188.1L439.8,1192.2L441.6,1188.1L443.4,1179.1L445.2,1176.4L447.0,1176.0L448.8,1171.6L450.6,1173.7L452.4,1168.4L454.2,1162.5L456.0,1162.3L457.8,1151.8L459.6,1156.2L461.4,1155.2L463.2,1149.4L465.0,1145.2L466.8,1146.5L468.6,1148.4L470.4,1141.2L472.2,1135.4L474.0,1141.4L475.8,1129.7L477.6,1134.9L479.4,1129.3L481.2,1131.4L483.0,1123.9L484.8,1128.5L486.6,1124.1L488.4,1117.2L490.2,1116.0L492.0,1120.5L493.8,1124.7L495.6,1120.3L497.4,1118.5L499.2,1115.5L501.0,1116.3L502.8,1113.5L504.6,1112.2L506.4,1107.6L508.2,1113.7L510.0,1114.1L511.8,1106.5L513.6,1118.1L515.4,1114.1L517.2,1110.9L519.0,1106.6L520.8,1114.1L522.6,1113.5L524.4,1109.8L526.2,1106.1L528.0,1115.0L529.8,1110.2L531.6,1111.1L533.4,1121.7L535.2,1120.3L537.0,1117.6L538.8,1114.3L540.6,1118.6L542.4,1111.0L544.2,1119.4L546.0,1118.1L547.8,1117.9L549.6,1118.3L551.4,1125.8L553.2,1125.8L555.0,1127.3L556.8,1130.7L558.6,1127.1L560.4,1127.6L562.2,1127.8L564.0,1134.1L565.8,1139.4L567.6,1138.7L569.4,1143.2L571.2,1139.9L573.0,1144.1L574.8,1145.4L576.6,1146.1L578.4,1157.7L580.2,1157.7L582.0,1153.7L583.8,1155.9L585.6,1160.8L587.4,1157.5L589.2,1166.7L591.0,1161.7L592.8,1167.0L594.6,1166.2L596.4,1170.0L598.2,1168.4L600.0,1169.4L601.8,1173.8L603.6,1177.3L605.4,1181.4L607.2,1185.5L609.0,1194.0L610.8,1193.8L612.6,1192.1L614.4,1198.0L616.2,1194.5L618.0,1204.8L619.8,1203.3L621.6,1198.2L623.4,1209.1L625.2,1212.5L627.0,1202.2L628.8,1212.9L630.6,1216.8L632.4,1213.5L634.2,1219.0L636.0,1221.4L637.8,1229.0L639.6,1230.1L641.4,1241.1L643.2,1231.3L645.0,1239.5L646.8,1237.6L648.6,1240.7L650.4,1237.4L652.2,1236.8L654.0,1243.5L655.8,1251.5L657.6,1257.7L659.4,1255.2L661.2,1256.6L663.0,1252.3L664.8,1264.9L666.6,1265.8L668.4,1258.8L670.2,1262.7L672.0,1259.7L673.8,1272.7L675.6,1269.2L677.4,1268.4L679.2,1272.6L681.0,1274.8L682.8,1273.2L684.6,1271.9L686.4,1274.6L688.2,1275.4L690.0,1288.8L691.8,1300.0L693.6,1283.4L695.4,1294.9L697.2,1298.8L699.0,1294.2L700.8,1302.3L702.6,1297.8L704.4,1311.1L706.2,1303.6L708.0,1308.5L709.8,1312.8L711.6,1308.5L713.4,1303.0L715.2,1310.9L717.0,1319.2L718.8,1316.6L720.6,1319.9L722.4,1314.8L724.2,1322.7L726.0,1327.2L727.8,1324.6L729.6,1335.4L731.4,1325.0L733.2,1321.3L735.0,1319.0L736.8,1334.7L738.6,1329.6L740.4,1337.1L742.2,1336.1L744.0,1344.5L745.8,1344.7L747.6,1337.5L749.4,1342.4L751.2,1347.9L753.0,1335.9L754.8,1351.4L756.6,1350.7L758.4,1350.0L760.2,1344.1L762.0,1347.6L763.8,1340.2L765.6,1347.5L767.4,1344.5L769.2,1349.0L771.0,1346.5L772.8,1351.9L774.6,1358.2L776.4,1345.2L778.2,1359.4L780.0,1344.0L781.8,1344.3L783.6,1357.3L785.4,1359.0L787.2,1362.5L789.0,1351.0L790.8,1361.1L792.6,1363.1L794.4,1370.7L796.2,1363.7L798.0,1368.8L799.8,1361.2L801.6,1367.4L803.4,1367.2L805.2,1375.3L807.0,1365.9L808.8,1367.4L810.6,1376.2L812.4,1383.7L814.2,1375.2L816.0,1374.7L817.8,1370.9L819.6,1380.0L821.4,1376.9L823.2,1384.6L825.0,1376.2L826.8,1368.5L828.6,1371.4L830.4,1369.3L832.2,1368.4L834.0,1385.2L835.8,1383.2L837.6,1371.2L839.4,1391.5L841.2,1382.6L843.0,1375.8L844.8,1385.3L846.6,1383.1L848.4,1379.4L850.2,1372.7L852.0,1386.5L853.8,1389.3L855.6,1371.7L857.4,1393.7L859.2,1395.7L861.0,1389.9L862.8,1394.9L864.6,1393.1L866.4,1390.0L868.2,1393.5L870.0,1405.3L871.8,1386.5L873.6,1397.9L875.4,1397.4L877.2,1391.1L879.0,1392.5L880.8,1385.3L882.6,1388.3L884.4,1393.6L886.2,1395.1" fill="none" stroke="#42CA79" stroke-width="2.8" stroke-linejoin="round" stroke-linecap="butt"/>
</g>
<g clip-path="url(#cd)">
<path d="M1013.8,1415.4L1025.0,1416.1L1028.6,1416.3L1031.9,1416.1L1034.6,1415.4L1037.3,1413.8L1039.3,1411.7L1041.1,1408.9L1042.4,1406.3L1043.6,1403.2L1045.7,1396.1L1048.4,1384.4L1049.9,1375.7L1051.8,1361.8L1054.8,1337.0L1056.7,1318.0L1059.3,1286.8L1061.5,1265.5L1062.4,1259.9L1064.2,1250.4L1067.3,1227.0L1070.0,1211.8L1071.2,1203.6L1072.2,1191.4L1073.1,1171.3L1074.0,1158.2L1079.7,1086.8L1081.1,1055.6L1082.1,1045.9L1084.3,1031.1L1085.4,1026.6L1087.7,1020.0L1090.6,1006.5L1091.6,1000.3L1095.3,972.2L1095.9,969.9L1097.1,967.5L1098.9,965.8L1100.0,965.5L1100.7,966.0L1102.1,968.5L1107.9,982.4L1109.5,987.3L1111.4,996.5L1115.1,1021.5L1116.4,1028.2L1117.6,1032.2L1119.7,1037.4L1121.3,1040.8L1124.0,1045.7L1125.7,1049.4L1127.5,1055.9L1132.0,1081.1L1140.5,1138.1L1143.6,1155.8L1146.6,1170.3L1148.2,1176.9L1150.3,1184.1L1155.7,1199.7L1159.1,1211.3L1163.1,1227.0L1169.3,1255.0L1174.3,1272.0L1177.7,1284.4L1180.1,1290.7L1181.9,1294.5L1198.6,1326.8L1205.0,1337.9L1210.0,1345.7L1219.0,1358.3L1224.3,1364.3L1230.8,1370.4L1234.3,1373.3L1241.8,1378.9L1250.1,1383.9L1254.8,1386.3L1264.5,1390.5L1279.0,1396.0L1293.3,1400.4L1307.6,1404.0L1321.9,1406.5L1340.5,1409.0L1360.0,1410.7L1400.1,1412.9L1420.0,1413.6L1440.3,1414.0L1514.3,1414.5L1590.0,1414.1L1595.0,1413.7L1596.5,1414.0L1596.9,1414.7L1597.3,1416.0L1598.1,1416.5L1600.0,1416.3L1784.0,1416.3" fill="none" stroke="#FFC925" stroke-width="2.8" stroke-linejoin="round" stroke-linecap="butt"/>
<path d="M1013.8,1413.8L1026.2,1414.8L1029.0,1414.7L1031.4,1414.3L1034.0,1413.3L1037.0,1411.0L1038.8,1408.6L1039.6,1407.0L1042.1,1399.3L1044.4,1389.2L1046.4,1377.9L1048.1,1364.7L1052.3,1324.3L1055.0,1292.1L1057.5,1267.4L1061.4,1216.6L1063.7,1190.3L1065.5,1176.2L1068.8,1156.9L1070.5,1141.8L1071.9,1125.7L1073.2,1106.5L1075.6,1062.5L1076.4,1042.5L1077.2,1011.0L1078.1,991.7L1080.2,960.1L1082.4,932.7L1083.6,924.5L1086.4,916.4L1088.6,906.1L1091.0,891.0L1094.7,862.5L1096.7,855.3L1097.9,852.8L1098.6,852.3L1099.9,852.8L1101.4,854.4L1102.7,856.4L1103.6,858.3L1104.3,860.8L1106.8,871.4L1109.1,879.2L1111.0,889.3L1116.5,930.0L1117.7,936.8L1118.9,940.9L1121.8,946.4L1124.6,953.9L1127.3,962.7L1128.9,969.6L1132.9,994.3L1135.5,1014.6L1139.9,1052.6L1145.7,1095.1L1147.5,1105.5L1151.2,1121.2L1163.1,1164.7L1177.0,1233.9L1180.3,1247.3L1182.3,1253.0L1190.0,1271.0L1197.0,1291.5L1200.1,1299.6L1205.0,1311.2L1208.6,1318.6L1212.4,1325.3L1216.6,1331.8L1228.6,1348.2L1236.8,1358.2L1241.2,1362.9L1245.7,1367.1L1250.1,1370.6L1254.8,1373.8L1259.6,1376.7L1264.5,1379.4L1274.3,1384.3L1283.7,1388.2L1293.3,1391.4L1302.9,1394.3L1312.4,1397.0L1321.9,1399.3L1336.1,1402.3L1369.5,1407.0L1388.6,1409.3L1404.0,1410.5L1426.3,1411.7L1453.1,1412.4L1491.3,1413.2L1514.3,1413.3L1557.1,1412.9L1590.0,1412.5L1595.0,1412.0L1596.5,1412.4L1596.8,1412.9L1597.2,1415.9L1597.5,1416.3L1598.1,1416.5L1600.0,1416.3L1784.0,1416.3" fill="none" stroke="#42CA79" stroke-width="2.8" stroke-linejoin="round" stroke-linecap="butt"/>
</g></svg>
</body></html>
